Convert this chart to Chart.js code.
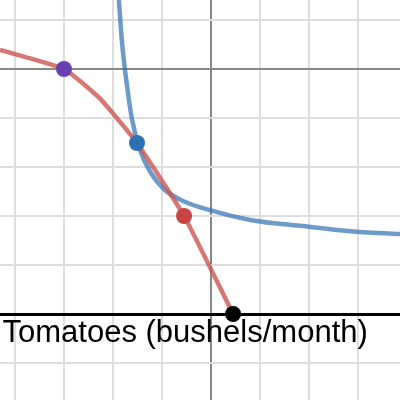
<!DOCTYPE html><html><head><style>html,body{margin:0;background:#fff;overflow:hidden}#o{width:400px;height:400px;overflow:hidden;position:relative}#w{position:absolute;left:-8px;top:-8px;width:416px;height:416px}</style>
<script src="https://cdn.jsdelivr.net/npm/chart.js@4"></script></head><body><div id="o"><div id="w"><canvas id="c"></canvas></div></div><script>
const ppfX=[-0.306,1,1.73,2.49,3.45,4.45];
const ppfY=[5.39,5,4.40,3.49,2,0];
const indX=[2.12,2.18,2.27,2.39,2.55,2.76,3.06,3.47,3.98,4.80,5.82,6.84,7.86];
const indY=[6.41,5.59,4.78,3.96,3.35,2.90,2.53,2.29,2.12,1.92,1.80,1.69,1.63];
const ptsX=[1,2.49,3.45,4.45];
const ptsY=[5,3.49,2,0];
const ptsColor=['#6a3fb0','#2d70b3','#c74440','#000000'];
const axisLabel='Tomatoes (bushels/month)';
const zip=(a,b)=>a.map((v,i)=>({x:v,y:b[i]}));
const labelPlugin={id:'lbl',afterDraw(ch){const c=ch.ctx,s=ch.scales;c.save();c.font='31px "Liberation Sans", Arial';c.fillStyle='#000';c.textBaseline='middle';c.textAlign='right';c.fillText(axisLabel,s.x.getPixelForValue(7.2),s.y.getPixelForValue(-0.4));c.restore();}};
new Chart(document.getElementById('c'),{type:'scatter',data:{datasets:[
{data:zip(ptsX,ptsY),pointRadius:8,pointHoverRadius:8,backgroundColor:ptsColor,borderWidth:0,showLine:false,order:0},
{data:zip(ppfX,ppfY),showLine:true,borderColor:'rgba(205,85,80,0.8)',borderWidth:4.5,pointRadius:0,tension:0.15,order:1},
{data:zip(indX,indY),showLine:true,borderColor:'rgba(45,112,179,0.7)',borderWidth:4.5,pointRadius:0,cubicInterpolationMode:'monotone',order:2}
]},options:{animation:false,responsive:true,maintainAspectRatio:false,layout:{padding:0},
plugins:{legend:{display:false},tooltip:{enabled:false}},
scales:{x:{type:'linear',min:-0.306,max:7.857,border:{display:false},ticks:{display:false,stepSize:1},
grid:{drawTicks:false,lineWidth:2,color:c=>c.tick.value===4?'#888':'#ddd'},afterBuildTicks:a=>{a.ticks=[0,1,2,3,4,5,6,7].map(v=>({value:v}))}},
y:{type:'linear',min:-1.755,max:6.408,border:{display:false},ticks:{display:false,stepSize:1},
grid:{drawTicks:false,lineWidth:c=>c.tick.value===0?3:2,color:c=>c.tick.value===0?'#000':c.tick.value===5?'#888':'#ddd'},afterBuildTicks:a=>{a.ticks=[-1,0,1,2,3,4,5,6].map(v=>({value:v}))}}}},
plugins:[labelPlugin]});
</script></body></html>
